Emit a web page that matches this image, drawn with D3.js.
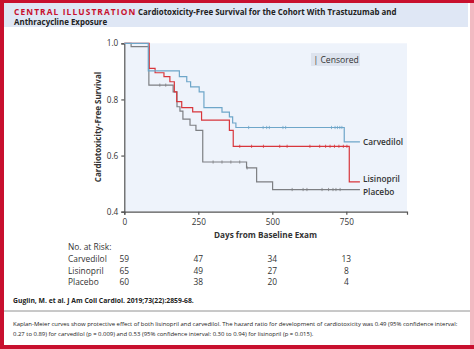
<!DOCTYPE html>
<html><head><meta charset="utf-8">
<script src="https://cdn.jsdelivr.net/npm/d3@7"></script>
<style>
html,body{margin:0;padding:0;background:#fff;}
svg{display:block;font-family:"Open Sans","Noto Sans",sans-serif;}
</style></head>
<body><svg id="c" width="474" height="349"></svg>
<script>
// ---- data ----
const groups = ["Carvedilol", "Lisinopril", "Placebo"];
const carvTimes = [0, 81, 186, 211, 224, 253, 269, 330, 355, 366, 377, 743];
const carvSurv  = [1.0, 0.902, 0.881, 0.863, 0.845, 0.827, 0.771, 0.755, 0.738, 0.716, 0.700, 0.649];
const lisiTimes = [0, 84, 104, 134, 154, 169, 177, 194, 231, 261, 355, 368, 760];
const lisiSurv  = [1.0, 0.911, 0.895, 0.881, 0.863, 0.827, 0.792, 0.771, 0.756, 0.726, 0.690, 0.633, 0.506];
const placTimes = [0, 23, 83, 165, 178, 188, 198, 222, 242, 265, 413, 447, 501];
const placSurv  = [1.0, 0.988, 0.851, 0.827, 0.774, 0.758, 0.730, 0.708, 0.690, 0.577, 0.556, 0.506, 0.479];
const endDay = 796;
const carvCensor = [420, 469, 481, 490, 536, 545, 700, 712, 720, 728, 735];
const lisiCensor = [390, 430, 470, 525, 550, 627, 660, 680, 695, 710, 725, 740, 752];
const placCensor = [120, 140, 300, 330, 360, 390, 415, 567, 604, 617, 668, 690, 705, 715, 729];
const xTicks = [0, 250, 500, 750];
const yTicks = [0.4, 0.6, 0.8, 1.0];
const riskCarv = [59, 47, 34, 13];
const riskLisi = [65, 49, 27, 8];
const riskPlac = [60, 38, 20, 4];
const colors = ["#6ea6c9", "#d8363c", "#7d7f83"];

const svg = d3.select("#c");
const red = "#c8102e";

// frame
svg.append("rect").attr("x",0).attr("y",0).attr("width",474).attr("height",349).attr("fill","#fff");
svg.append("rect").attr("x",4).attr("y",3).attr("width",464).attr("height",24).attr("fill","#dfe7f5");
svg.append("rect").attr("x",0).attr("y",0).attr("width",474).attr("height",3).attr("fill",red);
svg.append("rect").attr("x",0).attr("y",0).attr("width",4).attr("height",349).attr("fill",red);
svg.append("rect").attr("x",0).attr("y",345).attr("width",474).attr("height",4).attr("fill",red);
svg.append("rect").attr("x",470).attr("y",3).attr("width",4).attr("height",342).attr("fill","#f2b9c2");

// header
svg.append("text").attr("x",14).attr("y",14.5).attr("font-weight",700).attr("font-size",8.4)
  .attr("fill",red).attr("letter-spacing",1.1).text("CENTRAL ILLUSTRATION");
svg.append("text").attr("x",138).attr("y",14.5).attr("font-weight",700).attr("font-size",7.9)
  .attr("fill","#222").text("Cardiotoxicity-Free Survival for the Cohort With Trastuzumab and");
svg.append("text").attr("x",14).attr("y",24.5).attr("font-weight",700).attr("font-size",7.9).attr("fill","#222").text("Anthracycline Exposure");

// scales
const x = d3.scaleLinear().domain([0, 955]).range([124.3, 407]);
const y = d3.scaleLinear().domain([0.4, 1.0]).range([211.7, 43.3]);

svg.append("rect").attr("x",x(0)).attr("y",y(1)).attr("width",x(955)-x(0)).attr("height",y(0.4)-y(1)).attr("fill","#eef3fb");

// censored legend
svg.append("rect").attr("x",311).attr("y",53).attr("width",49).attr("height",13).attr("fill","#dde3ee");
svg.append("text").attr("x",313.5).attr("y",62.8).attr("font-size",8.6).attr("fill","#333").text("| Censored");

// axes
const ax = svg.append("g").attr("transform",`translate(0,${y(0.4)})`)
  .call(d3.axisBottom(x).tickValues(xTicks).tickSize(3).tickFormat(d3.format("d")));
const ay = svg.append("g").attr("transform",`translate(${x(0)},0)`)
  .call(d3.axisLeft(y).tickValues(yTicks).tickSize(3).tickFormat(d3.format(".1f")));
[ax, ay].forEach(a => {
  a.selectAll("path,line").attr("stroke","#555").attr("stroke-width",1.2);
  a.selectAll("text").attr("font-size",8.2).attr("fill","#333").attr("font-family","Open Sans, sans-serif");
});
ax.selectAll("text").attr("dy","0.9em");

svg.append("text").attr("transform",`translate(101,127) rotate(-90)`).attr("text-anchor","middle")
  .attr("font-size",8).attr("font-weight",700).attr("fill","#333").text("Cardiotoxicity-Free Survival");
svg.append("text").attr("x",265.5).attr("y",238).attr("text-anchor","middle")
  .attr("font-size",8.2).attr("font-weight",700).attr("fill","#333").text("Days from Baseline Exam");

// curves
const series = [
  {name: groups[0], t: carvTimes, s: carvSurv, c: carvCensor, col: colors[0], ly: 142},
  {name: groups[1], t: lisiTimes, s: lisiSurv, c: lisiCensor, col: colors[1], ly: 179},
  {name: groups[2], t: placTimes, s: placSurv, c: placCensor, col: colors[2], ly: 192.5}
];
const line = d3.line().x(d => x(d[0])).y(d => y(d[1])).curve(d3.curveStepAfter);
const survAt = (ser, t) => { let v = 1; ser.t.forEach((tt,i)=>{ if (tt <= t) v = ser.s[i]; }); return v; };
[series[2], series[1], series[0]].forEach(ser => {
  const pts = ser.t.map((t,i)=>[t, ser.s[i]]);
  pts.push([endDay, ser.s[ser.s.length-1]]);
  svg.append("path").attr("d", line(pts)).attr("fill","none").attr("stroke",ser.col).attr("stroke-width",1.2);
  svg.append("g").selectAll("line").data(ser.c).join("line")
    .attr("x1", d=>x(d)).attr("x2", d=>x(d))
    .attr("y1", d=>y(survAt(ser,d))-1.6).attr("y2", d=>y(survAt(ser,d))+1.6)
    .attr("stroke", ser.col).attr("stroke-width",0.8);
});
series.forEach(ser => {
  svg.append("text").attr("x",363).attr("y",ser.ly).attr("dy","0.35em")
    .attr("font-size",8.3).attr("font-weight",600).attr("fill","#333").text(ser.name);
});

// risk table
const fs = 8.4;
svg.append("text").attr("x",68).attr("y",249.5).attr("font-size",fs).attr("fill","#333").text("No. at Risk:");
const risks = [riskCarv, riskLisi, riskPlac];
const rowY = [261.5, 273.5, 285];
groups.forEach((g,i) => {
  svg.append("text").attr("x",68).attr("y",rowY[i]).attr("font-size",fs).attr("fill","#333").text(g);
  svg.append("g").selectAll("text").data(risks[i]).join("text")
    .attr("x",(d,j)=>x(xTicks[j])).attr("y",rowY[i]).attr("text-anchor","middle")
    .attr("font-size",fs).attr("fill","#333").text(d=>d);
});

// citation
svg.append("text").attr("x",13).attr("y",302.5).attr("font-size",6.8).attr("font-weight",700).attr("fill","#222")
  .text("Guglin, M. et al. J Am Coll Cardiol. 2019;73(22):2859-68.");
svg.append("line").attr("x1",4).attr("x2",470).attr("y1",311).attr("y2",311).attr("stroke","#777").attr("stroke-width",0.8);
svg.append("text").attr("x",13).attr("y",325.5).attr("font-size",5.95).attr("fill","#222")
  .text("Kaplan-Meier curves show protective effect of both lisinopril and carvedilol. The hazard ratio for development of cardiotoxicity was 0.49 (95% confidence interval:");
svg.append("text").attr("x",13).attr("y",336).attr("font-size",5.95).attr("fill","#222")
  .text("0.27 to 0.89) for carvedilol (p = 0.009) and 0.53 (95% confidence interval: 0.30 to 0.94) for lisinopril (p = 0.015).");
</script></body></html>
